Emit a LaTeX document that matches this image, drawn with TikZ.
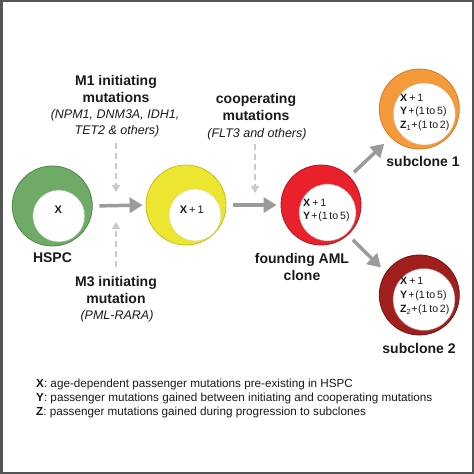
\documentclass[tikz,border=0pt]{standalone}
\usepackage{fontspec}
\setmainfont{Liberation Sans}
\usetikzlibrary{arrows.meta}
\definecolor{greenfill}{HTML}{6FAA66}
\definecolor{greenedge}{HTML}{4A8A45}
\definecolor{yellowfill}{HTML}{EDE630}
\definecolor{yellowedge}{HTML}{C8BE1E}
\definecolor{redfill}{HTML}{E8212B}
\definecolor{rededge}{HTML}{B8151C}
\definecolor{orangefill}{HTML}{F49A3A}
\definecolor{orangeedge}{HTML}{D27A22}
\definecolor{dkredfill}{HTML}{A01F1D}
\definecolor{dkrededge}{HTML}{741311}
\definecolor{arrowgray}{HTML}{9B9B9B}
\definecolor{dashgray}{HTML}{CACACA}
\definecolor{framegray}{HTML}{555555}
\definecolor{txt}{HTML}{1A1A1A}
\newcommand{\rng}[1]{{\spaceskip=1.8bp(#1)}}
\begin{document}
\begin{tikzpicture}[x=1bp,y=-1bp,
  outer/.style={circle,minimum size=80bp,inner sep=0,line width=0.8bp},
  innerc/.style={circle,minimum size=#1,inner sep=0,fill=white,line width=0.5bp},
  lab/.style={font=\fontsize{14bp}{17bp}\selectfont\bfseries,anchor=base,inner sep=0,text=txt},
  itl/.style={font=\fontsize{12.5bp}{15bp}\selectfont\itshape,anchor=base,inner sep=0,text=txt},
  cellt/.style={font=\fontsize{10.6bp}{13bp}\selectfont,anchor=base west,inner sep=0,text=txt},
  cellc/.style={font=\fontsize{11bp}{13bp}\selectfont,anchor=base,inner sep=0,text=txt},
  leg/.style={font=\fontsize{11.7bp}{14bp}\selectfont,anchor=base west,inner sep=0,text=txt},
  solidarr/.style={draw=arrowgray,line width=3.5bp,-{Triangle[length=13bp,width=15bp]}},
  dasharr/.style={draw=dashgray,line width=2bp,dash pattern=on 6bp off 4bp,-{Triangle[length=7bp,width=8bp]}}
]
\useasboundingbox (0,0) rectangle (474,474);
\fill[white] (0,0) rectangle (474,474);
\draw[framegray,line width=2.5bp] (1.25,1.25) rectangle (472.75,472.75);

% cells
\node[outer,fill=greenfill,draw=greenedge] (hspc) at (52.3,206) {};
\node[innerc=52bp,draw=greenedge!60] (hspcin) at (58.8,216) {};
\node[outer,fill=yellowfill,draw=yellowedge] (yel) at (186,205) {};
\node[innerc=52bp,draw=yellowedge!60] (yelin) at (195,215) {};
\node[outer,fill=redfill,draw=rededge] (red) at (321,205) {};
\node[innerc=57bp,draw=rededge!60] (redin) at (327.5,212.5) {};
\node[outer,fill=orangefill,draw=orangeedge] (ora) at (419.3,109) {};
\node[innerc=62bp,draw=orangeedge!60] (orain) at (424.3,114) {};
\node[outer,fill=dkredfill,draw=dkrededge] (dkr) at (419.3,295) {};
\node[innerc=62bp,draw=dkrededge!60] (dkrin) at (424,299.5) {};

% cell contents
\node[cellc] (hx) at (58.3,214) {\textbf{X}};
\node[cellc] (yx) at (191.7,214) {\textbf{X}\hspace{2bp}+\hspace{2bp}1};
\node[cellt] (rx) at (303,206.4) {\textbf{X}\hspace{2bp}+\hspace{2bp}1};
\node[cellt] (ry) at (303,219.8) {\textbf{Y}\hspace{1.2bp}+\hspace{0.6bp}\rng{1 to 5}};
\node[cellt] (ox) at (400,101.4) {\textbf{X}\hspace{2bp}+\hspace{2bp}1};
\node[cellt] (oy) at (400,115) {\textbf{Y}\hspace{1.2bp}+\hspace{0.6bp}\rng{1 to 5}};
\node[cellt] (oz) at (400,128.4) {\textbf{Z}\textsubscript{1}+\hspace{0.6bp}\rng{1 to 2}};
\node[cellt] (dx) at (400,284.8) {\textbf{X}\hspace{2bp}+\hspace{2bp}1};
\node[cellt] (dy) at (400,298.6) {\textbf{Y}\hspace{1.2bp}+\hspace{0.6bp}\rng{1 to 5}};
\node[cellt] (dz) at (400,312.4) {\textbf{Z}\textsubscript{2}+\hspace{0.6bp}\rng{1 to 2}};

% labels
\node[lab] (hspcl) at (52.5,262) {HSPC};
\node[lab] (m1a) at (116,86) {M1 initiating};
\node[lab] (m1b) at (116,103) {mutations};
\node[itl] (m1c) at (115,118.5) {(NPM1, DNM3A, IDH1,};
\node[itl] (m1d) at (117,134.5) {TET2 \& others)};
\node[lab] (coa) at (256,104) {cooperating};
\node[lab] (cob) at (256,121) {mutations};
\node[itl] (coc) at (257,137.5) {(FLT3 and others)};
\node[lab] (m3a) at (116,286) {M3 initiating};
\node[lab] (m3b) at (116,303) {mutation};
\node[itl] (m3c) at (117,319.5) {(PML-RARA)};
\node[lab] (fa) at (302,263) {founding AML};
\node[lab] (fb) at (302,280) {clone};
\node[lab] (s1) at (423,167) {subclone 1};
\node[lab] (s2) at (419,353) {subclone 2};

% legend
\node[leg] (lx) at (36,387) {\textbf{X}: age-dependent passenger mutations pre-existing in HSPC};
\node[leg] (ly) at (36,401) {\textbf{Y}: passenger mutations gained between initiating and cooperating mutations};
\node[leg] (lz) at (36,415) {\textbf{Z}: passenger mutations gained during progression to subclones};

% solid arrows
\draw[solidarr,shorten <=6.7bp,shorten >=3bp] (hspc.east) -- (yel.west);
\draw[solidarr,shorten <=7bp,shorten >=4bp] (yel.east) -- (red.west);
\draw[solidarr,shorten <=6bp,shorten >=9bp] (red.45) -- (ora.-135);
\draw[solidarr,shorten <=6.8bp,shorten >=6.9bp] (red.-48) -- (dkr.146);

% dashed arrows
\coordinate (m1s) at (116,143);
\coordinate (m1e) at (116,192);
\coordinate (m3s) at (116,267);
\coordinate (m3e) at (116,222);
\coordinate (cos) at (255,144);
\coordinate (coe) at (255,193);
\draw[dasharr] (m1s) -- (m1e);
\draw[dasharr] (m3s) -- (m3e);
\draw[dasharr] (cos) -- (coe);
\end{tikzpicture}
\end{document}
